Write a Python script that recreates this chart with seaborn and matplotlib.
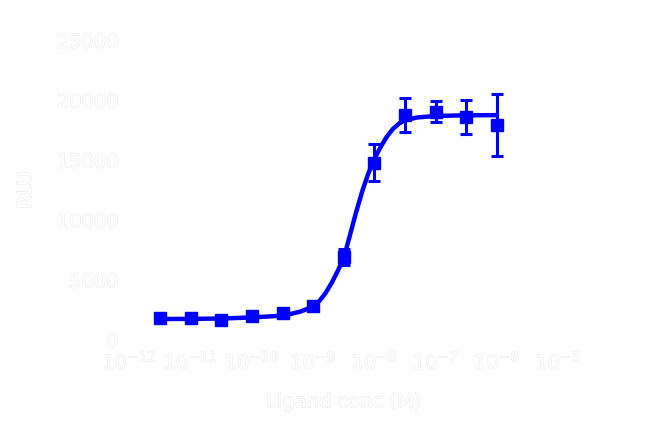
import matplotlib
matplotlib.use("Agg")
import matplotlib.pyplot as plt
import matplotlib.patheffects as pe
import seaborn as sns
import pandas as pd

# measured points (log10 molar conc, mean, error)
log_conc = [-11.5, -11.0, -10.5, -10.0, -9.5, -9.0, -8.5, -8.0, -7.5, -7.0, -6.5, -6.0]
response = [1830, 1830, 1670, 2000, 2250, 2830, 6900, 14800, 18750, 19050, 18600, 17900]
err = [0, 0, 0, 0, 0, 0, 680, 1580, 1420, 870, 1420, 2580]

# fitted curve
curve_log = [-11.5, -11.0, -10.5, -10.0, -9.6, -9.4, -9.2, -9.0, -8.9, -8.8, -8.7,
             -8.6, -8.5, -8.4, -8.3, -8.2, -8.1, -8.0, -7.9, -7.8, -7.7, -7.6,
             -7.5, -7.3, -7.0, -6.5, -6.0]
curve_y = [1750, 1760, 1790, 1880, 2000, 2130, 2380, 2800, 3250, 3900, 4750,
           5750, 6850, 8750, 10650, 12400, 13900, 15100, 16100, 16950, 17600, 18050,
           18330, 18560, 18680, 18740, 18750]

xticks = [-12, -11, -10, -9, -8, -7, -6, -5]
yticks = [0, 5000, 10000, 15000, 20000, 25000]

pts = pd.DataFrame({"logc": log_conc, "resp": response, "err": err})
fit = pd.DataFrame({"logc": curve_log, "resp": curve_y})

sns.set_theme(style="white")
plt.rcParams['font.family'] = ['DejaVu Sans']

blue = "#0000ff"
fig = plt.figure(figsize=(6.5, 4.37), dpi=100)
ax = fig.add_axes([0.199, 0.222, 0.66, 0.686])

sns.lineplot(data=fit, x="logc", y="resp", color=blue, linewidth=3.2, ax=ax)
ax.errorbar(pts["logc"], pts["resp"], yerr=pts["err"], fmt="none",
            ecolor=blue, elinewidth=2.2, capsize=4, capthick=2.2)
ax.plot(pts["logc"], pts["resp"], "s", color=blue, markersize=8.5, linestyle="none")

ax.set_xlim(-12, -5)
ax.set_ylim(0, 25000)
ax.set_xticks(xticks)
ax.set_xticklabels([r"$\mathregular{10^{%d}}$" % t for t in xticks])
ax.set_yticks(yticks)
ax.set_yticklabels([str(t) for t in yticks])

for s in ax.spines.values():
    s.set_visible(False)
ax.tick_params(length=0, pad=8, labelsize=14, colors="white")

ax.set_xlabel("Ligand conc (M)", fontsize=14, color="white", labelpad=14)
ax.set_ylabel("RLU", fontsize=14, color="white")
ax.yaxis.set_label_coords(-0.22, 0.5)

outline = [pe.withStroke(linewidth=0.8, foreground="#ececec")]
for t in ax.get_xticklabels() + ax.get_yticklabels() + [ax.xaxis.label, ax.yaxis.label]:
    t.set_path_effects(outline)

fig.savefig("out.png", dpi=100, facecolor="white")
